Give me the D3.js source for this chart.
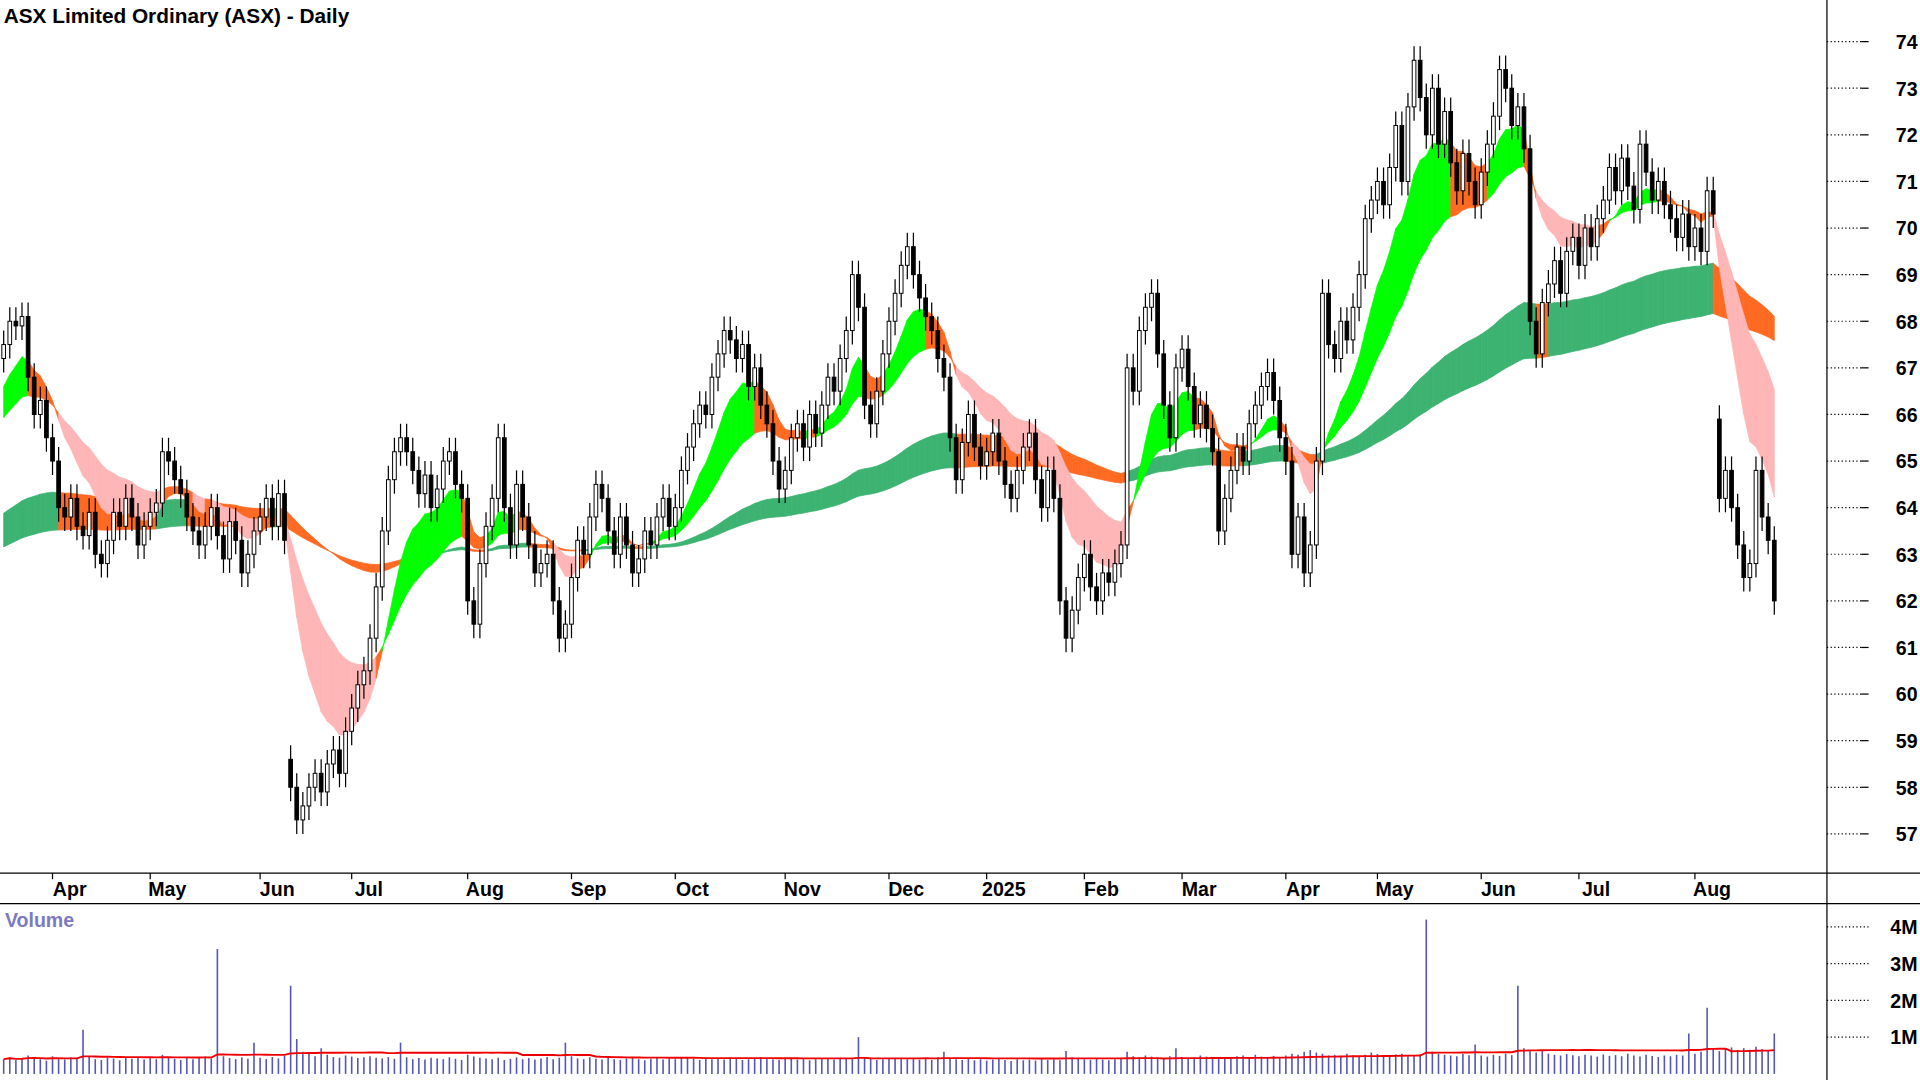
<!DOCTYPE html>
<html><head><meta charset="utf-8">
<script src="https://cdn.jsdelivr.net/npm/d3@7"></script>
<style>
body{margin:0;background:#fff}
text{font-family:"Liberation Sans",Arial,sans-serif;font-weight:bold}
</style></head>
<body>
<script>
// daily closes (one per bar)
const closes = [
 67.5,68.0,67.9,68.1, 66.8,66.0,66.3,65.5,65.0,
 64.0,63.8,64.2,63.6,63.4,63.9,63.0,62.8,63.3,
 63.9,63.6,64.2,63.8,63.2,63.6,63.9,64.1,65.2,
 65.0,64.6,64.3,63.8,63.5,
 63.2,63.6,64.0,63.4,62.9,63.7,63.3,62.6,
 63.0,63.5,63.8,64.2,63.6,64.3,63.3,
 58.0,57.3,57.6,58.0,58.3,57.9,
 58.5,58.8,58.3,59.2,59.7,60.2,
 60.5,61.2,62.3,63.5,64.6,65.2,65.5,
 65.2,64.8,64.3,64.7,64.0,64.4,65.0,65.2,64.5,64.2,
 62.0,61.5,62.8,
 63.6,64.2,65.5,64.0,63.2,64.5,63.8,
 63.2,62.6,62.8,63.0,62.0,61.2,61.5,
 62.5,63.3,63.0,63.8,64.5,64.2,63.5,
 63.0,63.8,63.2,62.6,62.9,63.5,63.2,63.8,64.2,63.6,
 64.0,64.8,65.3,65.8,66.2,66.0,66.8,67.3,67.8,67.6,
 67.2,67.5,66.6,67.0,66.2,65.8,65.0,64.4,
 64.8,65.5,65.8,65.3,66.0,65.6,66.2,66.8,
 66.5,67.2,67.8,69.0,68.3,
 66.2,65.8,66.5,
 67.3,68.0,68.6,69.2,69.6,69.0,
 68.5,68.1,67.8,67.2,66.8,
 65.5,64.6,65.4,66.0,65.3,64.9,
 65.2,65.6,65.0,64.5,64.2,64.8,65.3,65.6,64.6,64.0,64.8,64.2,
 62.0,61.2,61.8,
 62.5,63.0,62.3,62.0,62.6,62.4,62.8,63.2,
 67.0,66.5,67.8,68.3,68.6,67.3,
 66.2,65.5,67.0,67.4,66.6,65.8,66.2,65.7,65.2,
 63.5,64.2,64.8,
 65.3,65.0,65.8,66.2,66.6,66.9,66.3,65.5,65.0,
 63.0,63.8,62.6,63.2,
 65.0,68.6,67.5,
 67.2,68.0,67.6,68.3,69.0,
 70.2,70.6,71.0,70.5,71.3,72.2,71.0,72.6,73.6,
 72.8,72.0,73.0,71.8,72.5,71.4,70.8,71.6,71.0,70.5,71.2,71.8,72.4,
 73.4,73.0,72.2,72.6,71.7,
 68.0,67.3,68.4,
 68.8,69.3,68.6,69.5,69.8,69.2,70.0,69.6,70.2,
 70.6,71.3,70.8,71.5,70.9,70.4,71.8,71.2,70.6,71.0,70.5,70.2,
 69.8,70.3,69.6,70.0,69.5,70.8,70.3,
 64.2,64.8,64.0,63.2,62.5,62.8,64.8,63.8,63.3,62.0
]
// opens on the gap days (other days open at the previous close)
const gapOpens = {0: 67.2, 47: 58.6, 281: 65.9}
// daily volume in millions
const volumes = (
 "0.40 0.45 0.38 0.42 0.50 0.44 0.40 0.36 0.48 0.42 0.39 0.45 0.41 1.20 0.46 0.40 0.38 0.44 0.42 0.37 " +
 "0.43 0.41 0.46 0.39 0.44 0.40 0.52 0.45 0.41 0.38 0.43 0.40 0.44 0.47 0.42 3.40 0.48 0.43 0.40 0.45 " +
 "0.41 0.85 0.44 0.40 0.46 0.42 0.50 2.40 0.95 0.60 0.55 0.48 0.70 0.52 0.46 0.44 0.50 0.47 0.43 0.45 " +
 "0.48 0.44 0.42 0.46 0.41 0.85 0.45 0.40 0.43 0.39 0.44 0.42 0.40 0.45 0.41 0.38 0.52 0.47 0.44 0.42 " +
 "0.40 0.44 0.38 0.41 0.45 0.40 0.43 0.39 0.42 0.46 0.40 0.44 0.85 0.48 0.42 0.40 0.45 0.41 0.39 0.43 " +
 "0.40 0.38 0.42 0.45 0.40 0.37 0.41 0.44 0.39 0.42 0.40 0.43 0.46 0.41 0.38 0.44 0.40 0.42 0.39 0.45 " +
 "0.41 0.38 0.40 0.43 0.46 0.42 0.40 0.38 0.41 0.44 0.39 0.42 0.37 0.40 0.43 0.41 0.39 0.44 0.42 0.40 " +
 "1.00 0.45 0.41 0.38 0.40 0.43 0.41 0.44 0.40 0.42 0.39 0.41 0.38 0.45 0.60 0.43 0.40 0.38 0.41 0.37 " +
 "0.40 0.36 0.39 0.42 0.38 0.35 0.40 0.37 0.39 0.36 0.41 0.38 0.40 0.37 0.62 0.45 0.42 0.40 0.38 0.41 " +
 "0.39 0.37 0.40 0.42 0.60 0.48 0.45 0.50 0.47 0.44 0.42 0.48 0.70 0.46 0.43 0.45 0.50 0.47 0.44 0.42 " +
 "0.46 0.43 0.48 0.50 0.45 0.52 0.47 0.44 0.49 0.46 0.50 0.55 0.52 0.60 0.65 0.58 0.55 0.50 0.52 0.48 " +
 "0.55 0.50 0.47 0.52 0.58 0.54 0.50 0.48 0.53 0.55 0.51 0.49 0.52 4.20 0.60 0.55 0.52 0.50 0.48 0.54 " +
 "0.51 0.80 0.50 0.47 0.52 0.49 0.55 0.51 2.40 0.70 0.62 0.58 0.65 0.55 0.52 0.50 0.54 0.51 0.48 0.52 " +
 "0.50 0.47 0.53 0.49 0.51 0.48 0.55 0.50 0.47 0.52 0.49 0.46 0.50 0.48 0.52 0.50 1.10 0.55 0.60 1.80 " +
 "0.70 0.62 0.68 0.72 0.65 0.70 0.66 0.74 0.68 0.64 1.10"
).split(" ").map(Number)

const priceTicks = d3.range(57, 75)
const volumeTicks = [1, 2, 3, 4]
// month tick positions as bar indices
const monthTicks = [
 {i: 8, label: "Apr"}, {i: 24, label: "May"}, {i: 42, label: "Jun"}, {i: 57, label: "Jul"},
 {i: 76, label: "Aug"}, {i: 93, label: "Sep"}, {i: 110, label: "Oct"}, {i: 128, label: "Nov"},
 {i: 145, label: "Dec"}, {i: 161, label: "2025"}, {i: 177, label: "Feb"}, {i: 193, label: "Mar"},
 {i: 210, label: "Apr"}, {i: 225, label: "May"}, {i: 242, label: "Jun"}, {i: 258, label: "Jul"},
 {i: 277, label: "Aug"}
]
const title = "ASX Limited Ordinary (ASX) - Daily"

// drawn in a 1568x882 frame and scaled up to the 1920x1080 window
const W = 1568, H = 882
const plotRight = 1492
const pricePanel = {top: 0, bottom: 713}
const volPanel = {top: 738, bottom: 882}

const svg = d3.select("body").append("svg").attr("width", 1920).attr("height", 1080)
  .attr("viewBox", `0 0 ${W} ${H}`)

const n = closes.length
const x = d3.scaleLinear().domain([0, n - 1]).range([3, 1449])
const y = d3.scaleLinear().domain([57, 74]).range([681, 34])
const yv = d3.scaleLinear().domain([0, 4]).range([877, 757])

const bars = closes.map((c, i) => {
  const o = gapOpens[i] != null ? gapOpens[i] : closes[i - 1]
  const hi = Math.max(o, c) + 0.3
  const lo = Math.min(o, c) - 0.3
  return {i, o, c, hi, lo}
})

// ribbons from EMAs (seeded with the levels showing at the left edge)
function ema(vals, period, seed) {
  const k = 2 / (period + 1); let e = seed
  return vals.map(v => (e = e + k * (v - e)))
}
const eFa = ema(closes, 10, 66.4), eFb = ema(closes, 25, 65.8)
const eLa = ema(closes, 90, 63.8), eLb = ema(closes, 150, 63.1)

function ribbon(a, b, green, pink) {
  const g = svg.append("g")
  const area = d3.area().x(d => x(d.i)).y0(d => y(d.a)).y1(d => y(d.b))
  for (let i = 1; i < n; i++) {
    let col
    if (a[i] > b[i]) col = a[i] >= a[Math.max(0, i - 3)] ? green : "#ff6a22"
    else col = (b[i] - a[i]) > 0.3 ? pink : "#ff6a22"
    g.append("path")
      .attr("d", area([{i: i - 1, a: a[i - 1], b: b[i - 1]}, {i, a: a[i], b: b[i]}]))
      .attr("fill", col).attr("stroke", col).attr("stroke-width", 0.6)
  }
}
ribbon(eLa, eLb, "#3cb371", "#ff8080")
ribbon(eFa, eFb, "#00ff00", "#ffb6b6")

// candles
const cg = svg.append("g")
cg.selectAll("line.wick").data(bars).enter().append("line")
  .attr("x1", d => x(d.i)).attr("x2", d => x(d.i))
  .attr("y1", d => y(d.hi)).attr("y2", d => y(d.lo))
  .attr("stroke", "#000").attr("stroke-width", 1)
cg.selectAll("rect").data(bars).enter().append("rect")
  .attr("x", d => x(d.i) - 1.5).attr("width", 3)
  .attr("y", d => y(Math.max(d.o, d.c)))
  .attr("height", d => Math.max(1, Math.abs(y(d.o) - y(d.c))))
  .attr("fill", d => d.c >= d.o ? "#fff" : "#000")
  .attr("stroke", "#000").attr("stroke-width", 0.8)

// frame
const frame = svg.append("g").attr("stroke", "#000").attr("stroke-width", 1)
frame.append("line").attr("x1", plotRight).attr("x2", plotRight).attr("y1", 0).attr("y2", H)
frame.append("line").attr("x1", 0).attr("x2", W).attr("y1", pricePanel.bottom).attr("y2", pricePanel.bottom)
frame.append("line").attr("x1", 0).attr("x2", W).attr("y1", volPanel.top).attr("y2", volPanel.top)

// price axis
const pa = svg.append("g")
priceTicks.forEach(t => {
  pa.append("line").attr("x1", plotRight).attr("x2", plotRight + 28)
    .attr("y1", y(t)).attr("y2", y(t)).attr("stroke", "#000").attr("stroke-dasharray", "1,2")
  pa.append("line").attr("x1", plotRight + 28).attr("x2", plotRight + 34)
    .attr("y1", y(t)).attr("y2", y(t)).attr("stroke", "#000")
  pa.append("text").attr("x", 1566).attr("y", y(t) + 6).attr("text-anchor", "end")
    .attr("font-size", 16).text(t)
})

// month axis
const ma = svg.append("g")
monthTicks.forEach(m => {
  const xx = x(m.i)
  ma.append("line").attr("x1", xx).attr("x2", xx).attr("y1", pricePanel.bottom)
    .attr("y2", pricePanel.bottom + 5).attr("stroke", "#000")
  ma.append("text").attr("x", xx + 14).attr("y", pricePanel.bottom + 19)
    .attr("text-anchor", "middle").attr("font-size", 16).text(m.label)
})

svg.append("text").attr("x", 3).attr("y", 19).attr("font-size", 17).text(title)

// volume
const vg = svg.append("g")
vg.selectAll("line").data(volumes).enter().append("line")
  .attr("x1", (d, i) => x(i)).attr("x2", (d, i) => x(i))
  .attr("y1", yv(0)).attr("y2", d => yv(d))
  .attr("stroke", "#5555bb").attr("stroke-width", 1.3)
const vma = volumes.map((v, i) => d3.mean(volumes.slice(Math.max(0, i - 49), i + 1)))
svg.append("path").datum(vma)
  .attr("d", d3.line().x((d, i) => x(i)).y(d => yv(d)))
  .attr("fill", "none").attr("stroke", "#ee0000").attr("stroke-width", 1.5)
svg.append("text").attr("x", 4).attr("y", 757).attr("font-size", 16)
  .attr("fill", "#7b7bc0").text("Volume")
volumeTicks.forEach(t => {
  svg.append("line").attr("x1", plotRight).attr("x2", plotRight + 34)
    .attr("y1", yv(t)).attr("y2", yv(t)).attr("stroke", "#000").attr("stroke-dasharray", "1,2")
  svg.append("text").attr("x", 1566).attr("y", yv(t) + 6).attr("text-anchor", "end")
    .attr("font-size", 16).text(t + "M")
})
</script>
</body></html>
